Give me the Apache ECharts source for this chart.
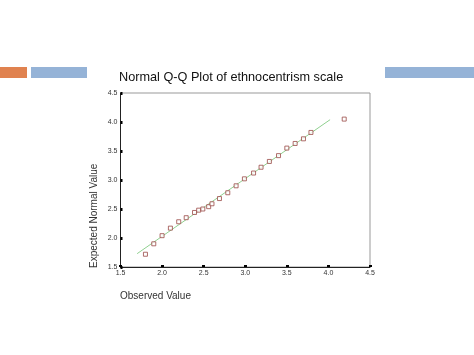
<!DOCTYPE html>
<html><head><meta charset="utf-8">
<script src="https://cdn.jsdelivr.net/npm/echarts@6/dist/echarts.min.js"></script>
<style>html,body{margin:0;padding:0;background:#fff}#c{width:474px;height:355px}</style>
</head><body><div id="c"></div>
<script>
const observed = [1.80,1.90,2.00,2.10,2.20,2.29,2.39,2.44,2.49,2.56,2.60,2.69,2.79,2.89,2.99,3.10,3.19,3.29,3.40,3.50,3.60,3.70,3.79,4.19];
const expected = [1.72,1.90,2.04,2.17,2.28,2.35,2.44,2.48,2.50,2.54,2.59,2.68,2.78,2.90,3.02,3.12,3.22,3.32,3.42,3.55,3.63,3.71,3.82,4.05];
const refLine = [[1.70,1.73],[4.02,4.04]];
const ticks = [1.5,2.0,2.5,3.0,3.5,4.0,4.5];

const chart = echarts.init(document.getElementById('c'));
const axisCommon = {
  min: 1.5, max: 4.5, interval: 0.5,
  axisLine: {show: true, onZero: false, lineStyle: {color: '#222', width: 1}},
  axisTick: {show: true, inside: true, length: 2, lineStyle: {color: '#000', width: 3}},
  axisLabel: {fontSize: 7, color: '#333', fontFamily: 'Liberation Sans', formatter: v => v.toFixed(1), margin: 3},
  splitLine: {show: false}
};
chart.setOption({
  animation: false,
  title: {text: 'Normal Q-Q Plot of ethnocentrism scale', left: 114, top: 66,
    textStyle: {fontSize: 12.7, fontWeight: 'normal', color: '#111', fontFamily: 'Liberation Sans'}},
  graphic: [
    {type: 'rect', shape: {x: 0, y: 67, width: 27, height: 11}, style: {fill: '#e0824f'}},
    {type: 'rect', shape: {x: 31, y: 67, width: 56, height: 11}, style: {fill: '#95b3d7'}},
    {type: 'rect', shape: {x: 385, y: 67, width: 89, height: 11}, style: {fill: '#95b3d7'}},
    {type: 'rect', shape: {x: 120.5, y: 93, width: 249.5, height: 174}, style: {fill: 'none', stroke: '#999', lineWidth: 1}, z: 0},
    {type: 'text', x: 120, y: 291, style: {text: 'Observed Value', fontSize: 10, fill: '#333', fontFamily: 'Liberation Sans'}},
    {type: 'text', x: 89, y: 268, rotation: Math.PI/2, style: {text: 'Expected Normal Value', fontSize: 10, fill: '#333', fontFamily: 'Liberation Sans'}}
  ],
  grid: {left: 120.5, right: 104, top: 93, bottom: 88},
  xAxis: Object.assign({type: 'value'}, axisCommon),
  yAxis: Object.assign({type: 'value'}, axisCommon),
  series: [
    {type: 'line', data: refLine, symbol: 'none', lineStyle: {color: '#8fd08f', width: 1}, z: 1},
    {type: 'scatter', data: observed.map((x,i)=>[x, expected[i]]), symbol: 'rect', symbolSize: 4,
     itemStyle: {color: '#fff', borderColor: '#9a4a46', borderWidth: 1}, z: 2}
  ]
});
</script></body></html>
